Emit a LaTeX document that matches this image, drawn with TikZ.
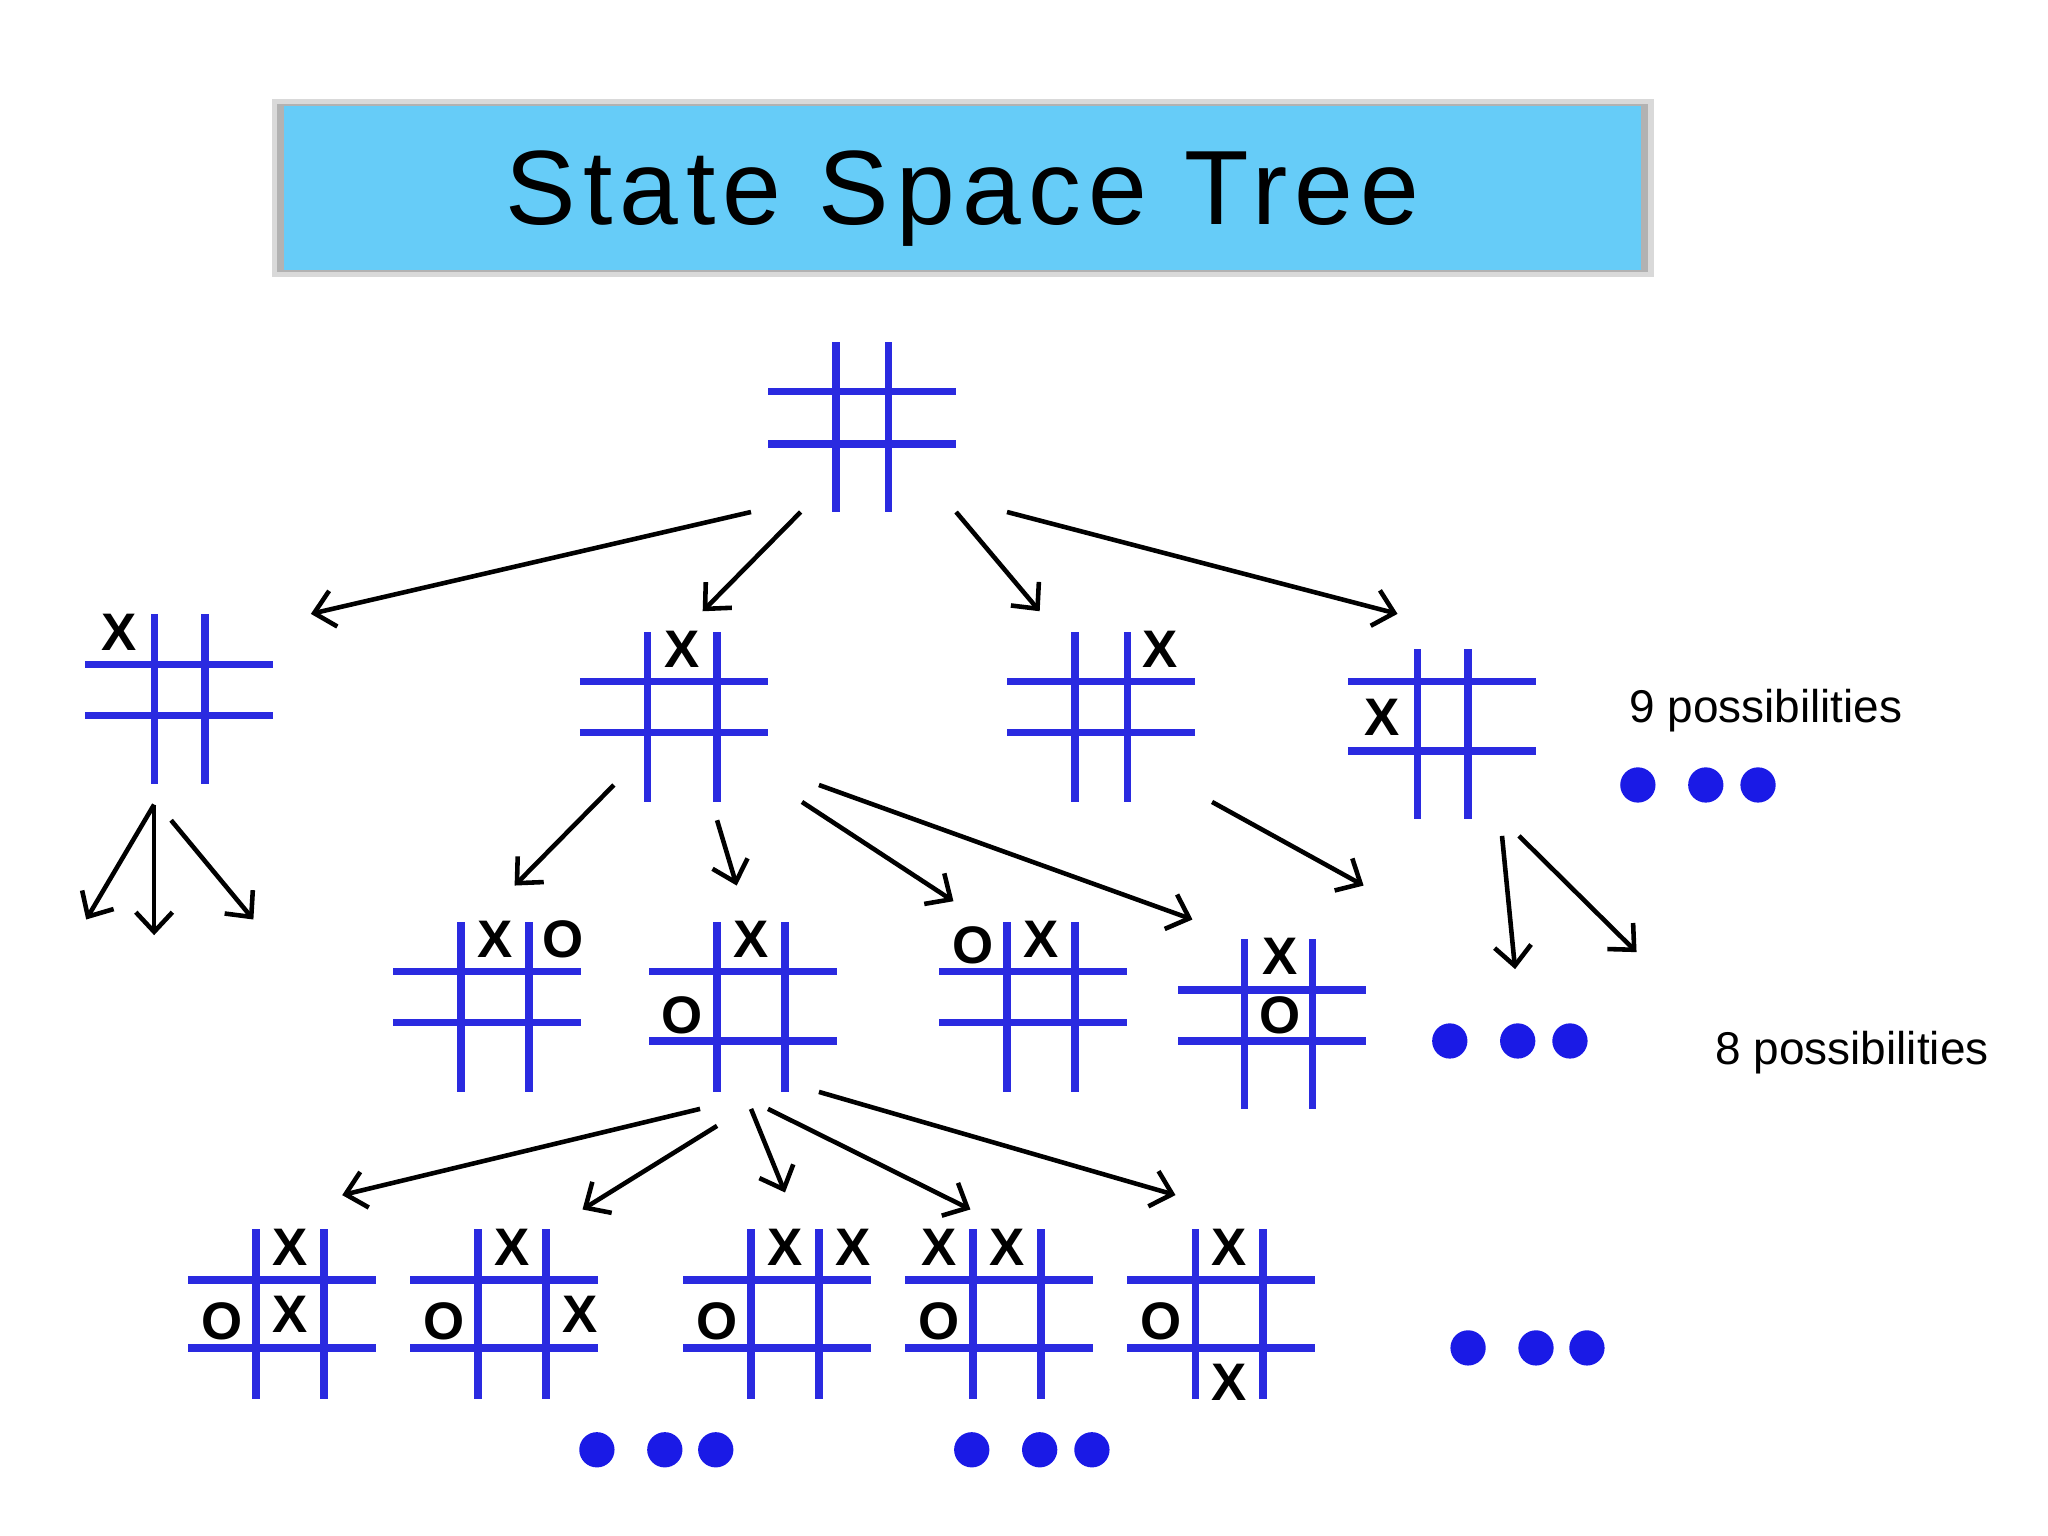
\documentclass[tikz,border=0pt]{standalone}
\usepackage{fontspec}
\setmainfont{Liberation Sans}
\usetikzlibrary{arrows.meta}
\definecolor{gridblue}{HTML}{2A2AE0}
\definecolor{dotblue}{HTML}{1A1AE6}
\definecolor{titleblue}{HTML}{66CCF8}
\tikzset{
  gridline/.style={draw=gridblue, line width=0.055cm},
  xomark/.style={font=\fontsize{11.5}{12}\selectfont\bfseries, inner sep=0pt},
  arr/.style={draw=black, line width=0.035cm, -{Straight Barb[length=1.5mm,width=2.8mm]}},
  dotn/.style={circle, fill=dotblue, minimum size=0.27cm, inner sep=0pt},
  lbl/.style={font=\fontsize{10}{12}\selectfont, inner sep=0pt}
}
\newcommand\board[6]{%
  \draw[gridline] (#3,#2) -- (#3,#2+130);
  \draw[gridline] (#4,#2) -- (#4,#2+130);
  \draw[gridline] (#1,#5) -- (#1+144,#5);
  \draw[gridline] (#1,#6) -- (#1+144,#6);}
\begin{document}
\begin{tikzpicture}[x=0.01cm,y=-0.01cm]
\useasboundingbox (0,0) rectangle (1568,1176);
% title
\fill[gray!30] (208,76) rectangle (1266,212);
\fill[gray!60] (212,80) rectangle (1262,208);
\node[fill=titleblue, minimum width=10.38cm, minimum height=1.26cm, inner sep=0pt] (title) at (737,144) {};
\node[inner sep=0pt] (titletext) at (737,152)
  {\fontsize{23}{28}\selectfont\addfontfeature{LetterSpace=7}State Space Tree};
% boards
\board{588}{262}{640}{680}{300}{340}
\board{65}{470}{118}{157}{509}{548}
\board{444}{484}{496}{549}{522}{561}
\board{771}{484}{823}{863}{522}{561}
\board{1032}{497}{1085}{1124}{522}{575}
\board{301}{706}{353}{405}{744}{783}
\board{497}{706}{549}{601}{744}{797}
\board{719}{706}{771}{823}{744}{783}
\board{902}{719}{953}{1005}{758}{797}
\board{144}{941}{196}{248}{980}{1032}
\board{314}{941}{366}{418}{980}{1032}
\board{523}{941}{575}{627}{980}{1032}
\board{693}{941}{745}{797}{980}{1032}
\board{863}{941}{915}{967}{980}{1032}
% marks
\node[xomark] (m1) at (91,484) {X};
\node[xomark] (m2) at (522,497) {X};
\node[xomark] (m3) at (888,497) {X};
\node[xomark] (m4) at (1058,549) {X};
\node[xomark] (m5) at (379,719) {X};
\node[xomark] (m6) at (431,719) {O};
\node[xomark] (m7) at (575,719) {X};
\node[xomark] (m8) at (522,777) {O};
\node[xomark] (m9) at (745,724) {O};
\node[xomark] (m10) at (797,719) {X};
\node[xomark] (m11) at (980,732) {X};
\node[xomark] (m12) at (980,777) {O};
\node[xomark] (m13) at (222,955) {X};
\node[xomark] (m14) at (170,1012) {O};
\node[xomark] (m15) at (222,1006) {X};
\node[xomark] (m16) at (392,955) {X};
\node[xomark] (m17) at (340,1012) {O};
\node[xomark] (m18) at (444,1006) {X};
\node[xomark] (m19) at (601,955) {X};
\node[xomark] (m20) at (653,955) {X};
\node[xomark] (m21) at (549,1012) {O};
\node[xomark] (m22) at (719,955) {X};
\node[xomark] (m23) at (771,955) {X};
\node[xomark] (m24) at (719,1012) {O};
\node[xomark] (m25) at (941,955) {X};
\node[xomark] (m26) at (889,1012) {O};
\node[xomark] (m27) at (941,1058) {X};
% arrows
\foreach \a/\b/\c/\d in {575/392/238/470, 613/392/538/468, 732/392/796/468, 771/392/1070/470,
  118/616/66/704, 118/616/118/716, 131/628/194/704,
  470/601/394/678, 549/628/564/678, 614/614/730/690, 627/601/913/704,
  928/614/1044/678, 1150/640/1160/742, 1163/640/1253/729,
  536/849/262/915, 549/862/446/926, 575/849/601/913, 588/849/743/926, 627/836/900/915}
  \draw[arr] (\a,\b) -- (\c,\d);
% dots
\foreach \x/\y in {1254/601,1306/601,1346/601, 1110/797,1162/797,1202/797,
  1124/1032,1176/1032,1215/1032, 457/1110,509/1110,548/1110, 744/1110,796/1110,836/1110}
  \node[dotn] at (\x,\y) {};
% labels
\node[lbl] (p9) at (1352,544) {9 possibilities};
\node[lbl] (p8) at (1418,806) {8 possibilities};
\end{tikzpicture}
\end{document}
